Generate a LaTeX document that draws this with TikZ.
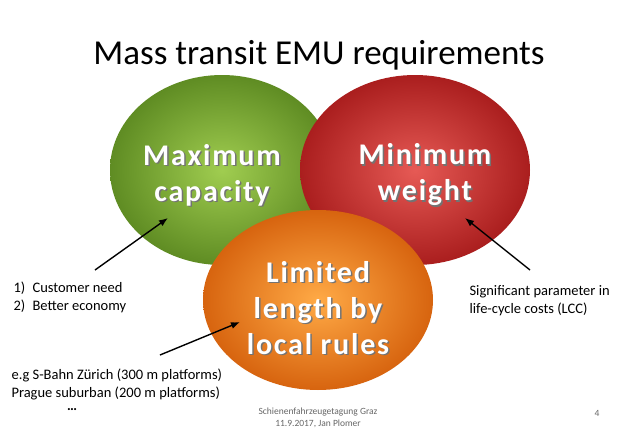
\documentclass[tikz,border=0pt]{standalone}
\usepackage{fontspec}
\setmainfont{Carlito}
\usetikzlibrary{arrows.meta,calc}
\definecolor{gD}{RGB}{95,140,35}\definecolor{gL}{RGB}{160,205,80}
\definecolor{rD}{RGB}{170,30,30}\definecolor{rL}{RGB}{230,90,85}
\definecolor{oD}{RGB}{215,100,15}\definecolor{oL}{RGB}{255,170,70}
\tikzset{
 bigtxt/.style={font=\fontsize{30}{36}\selectfont\bfseries\addfontfeature{LetterSpace=6},align=center,text=white},
 shd/.style={bigtxt,text=black!55},
 lbl/.style={font=\fontsize{14.5}{18}\selectfont,align=left,anchor=west},
 arr/.style={-{Latex[length=9pt,width=7pt]},line width=1.4pt}
}
\newcommand{\btext}[3]{\node[shd] at ($(#1)+(1.5,1.5)$) {#3};\node[bigtxt] (#2) at (#1) {#3};}
\begin{document}
\begin{tikzpicture}[x=1pt,y=-1pt]
\useasboundingbox (0,0) rectangle (638,434);
\node[font=\fontsize{35}{40}\selectfont] (title) at (319,55) {Mass transit EMU requirements};
\shade[inner color=gL,outer color=gD] (222,170) ellipse [x radius=112,y radius=95];
\shade[inner color=rL,outer color=rD] (415,170) ellipse [x radius=115,y radius=95];
\shade[inner color=oL,outer color=oD] (318,300) ellipse [x radius=115,y radius=90];
\btext{212,175}{cap}{Maximum\\capacity}
\btext{425,175}{wt}{Minimum\\weight}
\btext{318,308}{len}{Limited\\length by\\local rules}
\coordinate (a1) at (95,270); \coordinate (a1e) at (168,218);
\coordinate (a2) at (530,270); \coordinate (a2e) at (465,218);
\coordinate (a3) at (160,355); \coordinate (a3e) at (240,322);
\draw[arr] (a1) -- (a1e);
\draw[arr] (a2) -- (a2e);
\draw[arr] (a3) -- (a3e);
\node[lbl] (l1) at (10,297) {1)\enspace Customer need\\2)\enspace Better economy};
\node[lbl] (l2) at (466,301) {Significant parameter in\\life-cycle costs (LCC)};
\node[lbl] (l3) at (8,384) {e.g S-Bahn Zürich (300 m platforms)\\Prague suburban (200 m platforms)};
\node[font=\fontsize{14}{16}\selectfont\bfseries] (dots) at (72,410) {\dots};
\node[font=\fontsize{9.5}{11.5}\selectfont,text=black!60,align=center] (foot) at (318,418) {Schienenfahrzeugetagung Graz\\11.9.2017, Jan Plomer};
\node[font=\fontsize{9.5}{11}\selectfont,text=black!60] (pg) at (597,413) {4};
\end{tikzpicture}
\end{document}
